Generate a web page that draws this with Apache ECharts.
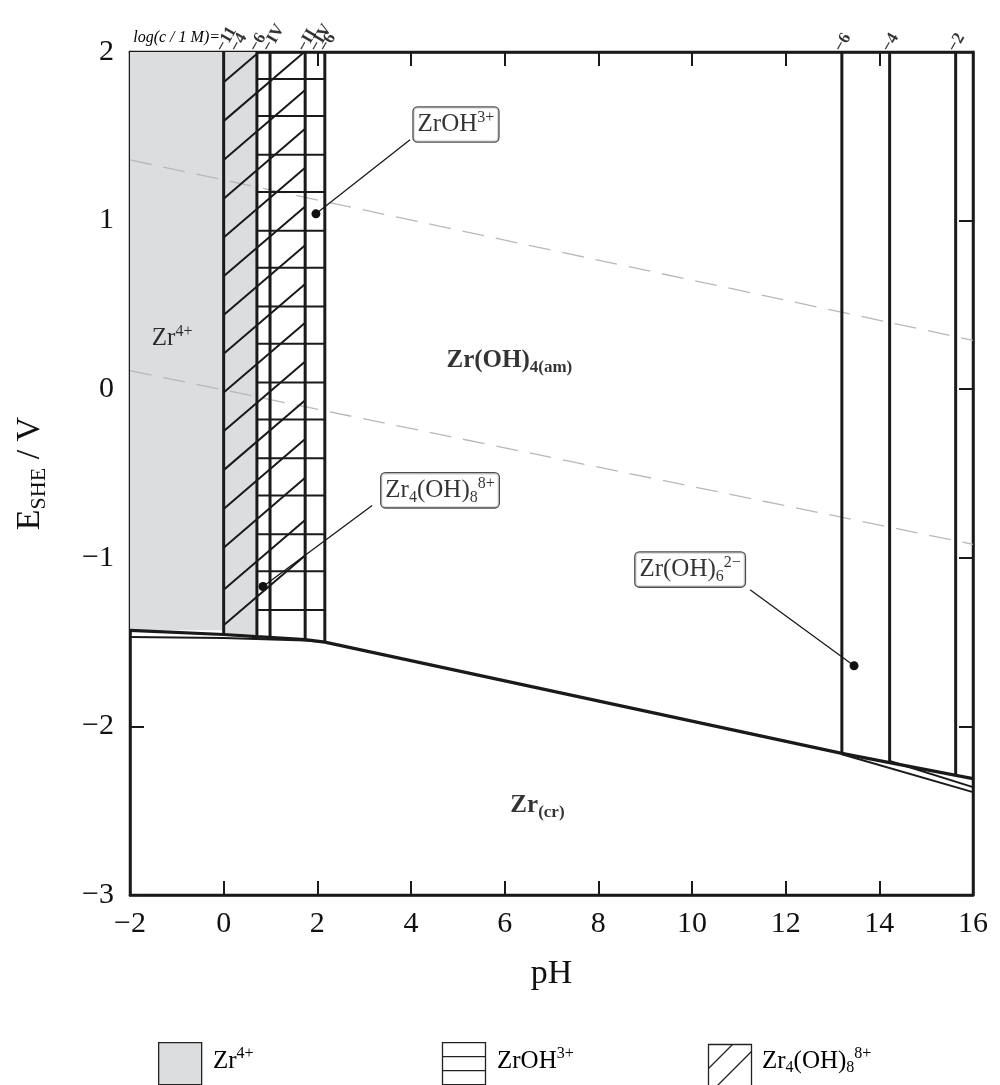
<!DOCTYPE html>
<html><head><meta charset="utf-8">
<script src="https://cdn.jsdelivr.net/npm/echarts@6/dist/echarts.min.js"></script>
<style>html,body{margin:0;background:#fff}#c{width:1000px;height:1085px}</style>
</head><body><div id="c"></div>
<script>
// boundaries (pH, E/V)
const mainBoundary = [[-2,-1.43],[0,-1.455],[0.71,-1.468],[1.74,-1.485],[2.16,-1.5],[13.2,-2.16],[14.22,-2.215],[16,-2.31]];
const lowBoundary1 = [[-2,-1.47],[0,-1.475],[1.74,-1.49],[2.16,-1.5]];
const lowBoundary2 = [[14.22,-2.205],[16,-2.36]];
const lowBoundary3 = [[13.2,-2.165],[16,-2.39]];
const verticals = [[0,-1.455],[0.71,-1.468],[0.99,-1.473],[1.74,-1.485],[2.16,-1.5],[13.2,-2.16],[14.22,-2.215],[15.63,-2.29]];
const topLabels = [[0,'−11'],[0.3,'−4'],[0.71,'−6'],[0.99,'−IV'],[1.74,'−II'],[2.0,'−IV'],[2.2,'−6'],[13.2,'−6'],[14.22,'−4'],[15.63,'−2']];
const waterUpper = [[-2,1.36],[16,0.29]];
const waterLower = [[-2,0.11],[16,-0.92]];
const gridE = [-1.31,-1.08,-0.86,-0.63,-0.41,-0.18,0.04,0.27,0.49,0.72,0.94,1.17,1.39,1.62,1.84];
const hatchStart = [-1.4,-1.19,-0.94,-0.71,-0.48,-0.25,-0.02,0.21,0.44,0.67,0.9,1.13,1.36,1.59,1.82,2.05];
const hatchSlope = 0.238;
const dots = [[1.97,1.04],[0.84,-1.17],[13.46,-1.64]];
const boxes = [[4.96,1.57,'{n|ZrOH}{sup|3+}'],[4.62,-0.6,'{n|Zr}{sub|4}{n|(OH)}{sub|8}{sup|8+}'],[9.96,-1.07,'{n|Zr(OH)}{sub|6}{sup|2−}']];
const leaderEnds = [[3.98,1.48],[3.17,-0.69],[11.24,-1.19]];
const regionLabels = [[-1.1,0.3,'{n|Zr}{sup|4+}'],[6.1,0.17,'{b|Zr(OH)}{bs|4(am)}'],[6.7,-2.47,'{b|Zr}{bs|(cr)}']];

const F = 'Liberation Serif';
const rich = {
  n:{fontFamily:F,fontSize:25,color:'#000'},
  sup:{fontFamily:F,fontSize:16,color:'#000',padding:[0,0,14,0]},
  sub:{fontFamily:F,fontSize:16,color:'#000',padding:[14,0,0,0]},
  b:{fontFamily:F,fontSize:25,fontWeight:'bold',color:'#000'},
  bs:{fontFamily:F,fontSize:17,fontWeight:'bold',color:'#000',padding:[14,0,0,0]}
};
const blk = '#1a1a1a';
function seg(d,w,extra){return Object.assign({type:'line',data:d,symbol:'none',lineStyle:{color:blk,width:w},z:3,silent:true,animation:false},extra||{});}

const vData=[]; verticals.forEach(v=>{vData.push([v[0],v[1]],[v[0],2],'-');});
const gData=[]; gridE.forEach(e=>{gData.push([0.71,e],[2.16,e],'-');});
const hData=[]; hatchStart.forEach(e=>{hData.push([0,e],[1.74,e+hatchSlope*1.74],'-');});
const leaders=[]; dots.forEach((d,i)=>{leaders.push(d,leaderEnds[i],'-');});

const axisLine={onZero:false,lineStyle:{color:blk,width:2.5}};
const tick={inside:true,length:14,lineStyle:{color:blk,width:2}};
const chart = echarts.init(document.getElementById('c'));
chart.setOption({
  animation:false,
  grid:{left:130,right:27,top:52,bottom:190,show:true,borderColor:blk,borderWidth:2.5},
  xAxis:[{type:'value',min:-2,max:16,interval:2,name:'pH',nameLocation:'middle',nameGap:62,
    nameTextStyle:{fontFamily:F,fontSize:34,color:'#111'},
    axisLine:axisLine,axisTick:tick,
    axisLabel:{fontFamily:F,fontSize:30,color:'#111',margin:14,formatter:v=>String(v).replace('-','−')},splitLine:{show:false}},
    {type:'value',position:'top',min:-2,max:16,interval:2,axisLine:axisLine,axisTick:tick,axisLabel:{show:false},splitLine:{show:false}}],
  yAxis:[{type:'value',min:-3,max:2,interval:1,name:'{n|E}{s|SHE}{n| / V}',nameLocation:'middle',nameGap:80,nameRotate:90,
    nameTextStyle:{rich:{n:{fontFamily:F,fontSize:34,color:'#111'},s:{fontFamily:F,fontSize:22,color:'#111',padding:[18,0,0,0]}}},
    axisLine:axisLine,axisTick:tick,
    axisLabel:{fontFamily:F,fontSize:30,color:'#111',margin:16,formatter:v=>String(v).replace('-','−')},splitLine:{show:false}},
    {type:'value',position:'right',min:-3,max:2,interval:1,axisLine:axisLine,axisTick:tick,axisLabel:{show:false},splitLine:{show:false}}],
  series:[
    seg([],0,{markArea:{silent:true,itemStyle:{color:'#dcdddf'},data:[[{coord:[-2,mainBoundary[0][1]]},{coord:[0,2]}],[{coord:[0,-1.455]},{coord:[0.71,2]}]]},z:1}),
    seg(waterUpper,1.3,{lineStyle:{color:'#b8b8b8',width:1.3,type:[22,12]},z:2}),
    seg(waterLower,1.3,{lineStyle:{color:'#b8b8b8',width:1.3,type:[22,12]},z:2}),
    seg(gData,2),
    seg(hData,2),
    seg(vData,3),
    seg(mainBoundary,3.2),
    seg(lowBoundary1,2),
    seg(lowBoundary2,2),
    seg(lowBoundary3,2),
    seg(leaders,1.3,{z:5}),
    {type:'scatter',data:dots,symbolSize:9,itemStyle:{color:'#111',opacity:1},z:6,silent:true},
    {type:'scatter',data:boxes.map(b=>({value:[b[0],b[1]],label:{formatter:b[2]}})),symbolSize:0,z:7,silent:true,
      label:{show:true,position:'inside',rich:rich,backgroundColor:'#fff',borderColor:'#222',borderWidth:1.3,borderRadius:4,padding:[2,4,2,4]}},
    {type:'scatter',data:regionLabels.map(b=>({value:[b[0],b[1]],label:{formatter:b[2]}})),symbolSize:0,z:7,silent:true,
      label:{show:true,position:'inside',rich:rich}},
    {type:'scatter',data:topLabels.map(t=>({value:[t[0],2],label:{formatter:t[1]}})),symbolSize:0,z:7,silent:true,
      label:{show:true,position:'top',distance:4,rotate:60,align:'left',verticalAlign:'middle',fontFamily:F,fontSize:17,fontWeight:'bold',color:'#000',offset:[-4,-2]}}
  ],
  graphic:[
    {type:'text',right:780,top:30,style:{text:'log(c / 1 M)=',font:'italic 16px "Liberation Serif"',fill:'#000'}},
    {type:'rect',left:158,top:1042,shape:{width:43,height:42},style:{fill:'#dcdddf',stroke:'#222',lineWidth:1.3}},
    {type:'text',left:213,top:1046,style:{rich:rich,text:'{n|Zr}{sup|4+}'}},
    {type:'group',left:440,top:1042,children:[
      {type:'rect',shape:{width:43,height:42},style:{fill:'#fff',stroke:'#222',lineWidth:1.3}},
      {type:'line',shape:{x1:0,y1:14,x2:43,y2:14},style:{stroke:'#222',lineWidth:1.3}},
      {type:'line',shape:{x1:0,y1:28,x2:43,y2:28},style:{stroke:'#222',lineWidth:1.3}}]},
    {type:'text',left:497,top:1046,style:{rich:rich,text:'{n|ZrOH}{sup|3+}'}},
    {type:'group',left:706,top:1042,children:[
      {type:'rect',shape:{width:43,height:42},style:{fill:'#fff',stroke:'#222',lineWidth:1.3}},
      {type:'line',shape:{x1:0,y1:24,x2:24,y2:0},style:{stroke:'#222',lineWidth:1.3}},
      {type:'line',shape:{x1:8,y1:42,x2:43,y2:7},style:{stroke:'#222',lineWidth:1.3}}]},
    {type:'text',left:762,top:1046,style:{rich:rich,text:'{n|Zr}{sub|4}{n|(OH)}{sub|8}{sup|8+}'}}
  ]
});
</script></body></html>
